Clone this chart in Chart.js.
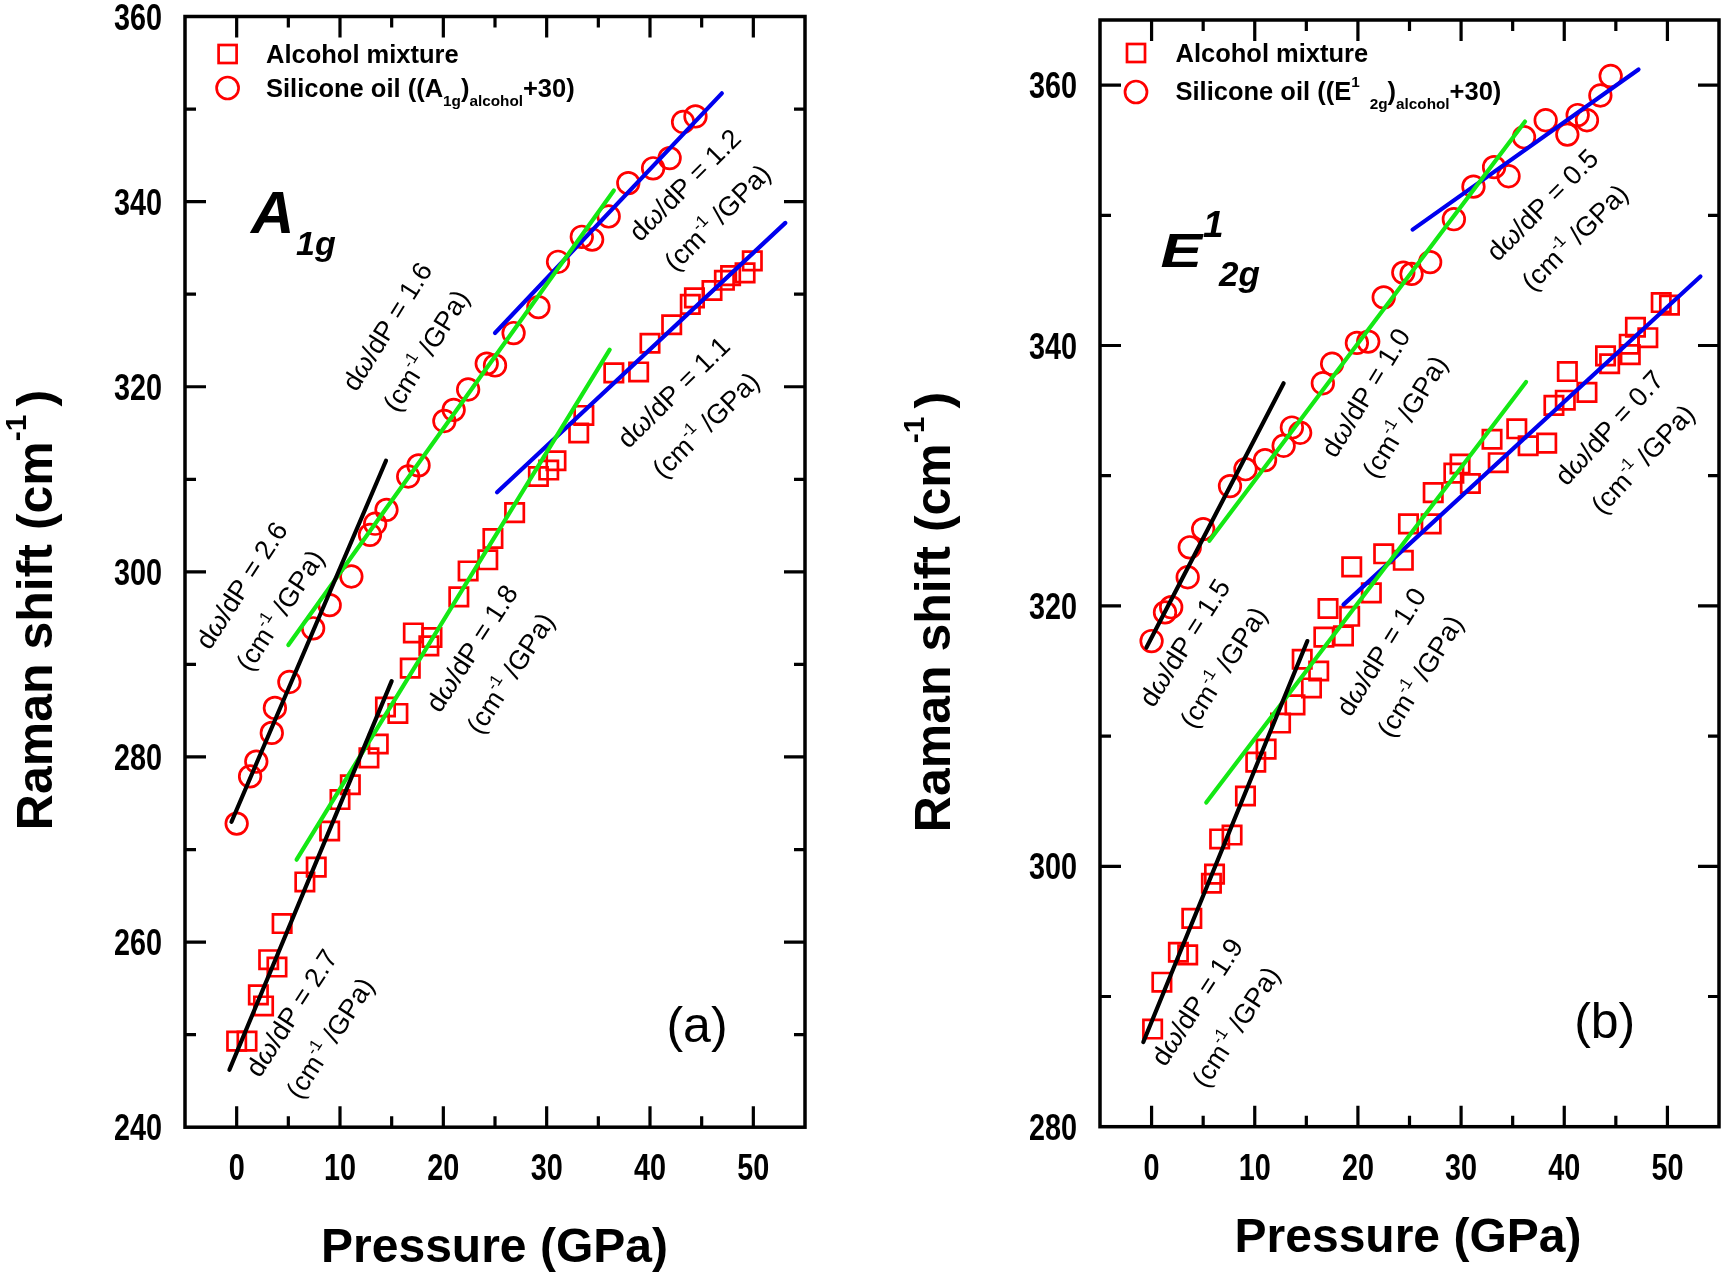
<!DOCTYPE html>
<html><head><meta charset="utf-8">
<script src="https://cdn.jsdelivr.net/npm/chart.js@4.4.0/dist/chart.umd.min.js"></script>
<style>
html,body{margin:0;padding:0;background:#fff;overflow:hidden}
#wrap{position:relative;width:1721px;height:1273px;background:#fff}
#ca{position:absolute;left:0;top:0;width:860px;height:1273px}
#cb{position:absolute;left:860px;top:0;width:861px;height:1273px}
</style></head><body>
<div id="wrap"><canvas id="ca" width="860" height="1273"></canvas><canvas id="cb" width="861" height="1273"></canvas></div>
<script>
// ================= DATA =================
const pressureTicks = [0, 10, 20, 30, 40, 50];
const a_ramanTicks = [240, 260, 280, 300, 320, 340, 360];
const b_ramanTicks = [280, 300, 320, 340, 360];

// Panel (a) A1g — alcohol mixture (squares)
const a_alcohol_P = [0,1.0,2.1,2.6,3.1,3.9,4.4,6.6,7.7,9.0,10.0,11.0,12.8,13.7,14.4,15.6,16.8,17.1,18.9,18.6,21.5,22.4,24.3,24.8,26.9,29.2,30.2,30.9,33.1,33.6,36.5,38.9,40.0,42.1,43.9,44.3,46.0,47.2,47.8,49.2,49.9];
const a_alcohol_w = [249.3,249.3,254.3,253.1,258.1,257.3,262.0,266.5,268.1,272.0,275.4,277.0,279.9,281.4,285.4,284.7,289.6,293.4,292.9,292.0,297.3,300.1,301.3,303.6,306.4,310.3,311.0,312.0,315.0,316.9,321.5,321.6,324.7,326.7,328.9,329.6,330.4,331.5,332.0,332.3,333.6];
// Panel (a) A1g — silicone oil (+30) (circles)
const a_silicone_P = [0,1.3,1.9,3.4,3.7,5.1,7.4,9.0,11.1,12.9,13.4,14.5,16.6,17.6,20.1,21.0,22.4,24.2,25.0,26.8,29.2,31.1,33.4,34.4,36.0,37.9,40.3,41.9,43.2,44.4];
const a_silicone_w = [272.8,277.9,279.5,282.6,285.3,288.1,293.9,296.4,299.5,304.0,305.2,306.7,310.3,311.5,316.3,317.5,319.7,322.5,322.3,325.8,328.6,333.5,336.2,335.9,338.4,342.0,343.6,344.7,348.6,349.2];

// Panel (b) E12g — alcohol mixture (squares)
const b_alcohol_P = [0.1,1.0,2.6,3.5,3.9,5.8,6.1,6.6,7.8,9.1,10.1,11.1,12.5,13.9,15.5,14.6,16.2,16.7,18.6,17.1,19.2,19.4,21.3,22.5,24.4,24.9,27.1,27.3,29.3,29.9,30.9,33.0,33.6,35.4,36.5,38.3,39.0,40.1,40.3,42.2,44.0,44.4,46.3,46.4,46.9,48.1,49.4,50.2];
const b_alcohol_w = [287.5,291.1,293.4,293.2,296.0,298.7,299.4,302.1,302.4,305.4,308.0,309.0,311.0,312.4,313.7,315.9,315.0,317.6,317.7,319.8,319.2,323.0,321.0,324.0,323.5,326.3,326.3,328.7,330.2,330.9,329.4,332.8,331.0,333.6,332.3,332.5,335.4,335.8,338.0,336.4,339.2,338.6,340.1,339.3,341.4,340.6,343.3,343.1];
// Panel (b) E12g — silicone oil (+30) (circles)
const b_silicone_P = [0,1.3,1.9,3.5,3.7,5.0,7.6,9.1,11.0,12.8,13.6,14.4,16.6,17.5,19.9,21.0,22.5,24.4,25.2,27.0,29.3,31.2,33.2,34.6,36.1,38.2,40.3,41.3,42.2,43.5,44.5];
const b_silicone_w = [317.3,319.5,319.9,322.2,324.5,325.9,329.2,330.5,331.2,332.3,333.7,333.3,337.1,338.6,340.2,340.3,343.7,345.6,345.5,346.4,349.7,352.2,353.7,353.0,356.0,357.3,356.2,357.7,357.3,359.2,360.7];

// Linear fit segments (end points)
const a_fit_P = [[-0.5,14.45],[5.0,36.5],[25.0,46.95],[-0.7,15.0],[5.8,36.1],[25.2,53.1]];
const a_fit_w = [[273.0,312.0],[292.1,341.2],[325.8,351.7],[246.2,288.2],[268.9,324.0],[308.6,337.7]];
const b_fit_P = [[-0.5,12.8],[5.6,36.2],[25.3,47.2],[-0.8,15.1],[5.3,36.3],[18.6,53.2]];
const b_fit_w = [[316.8,337.1],[325.0,357.2],[348.9,361.2],[286.5,317.3],[304.9,337.2],[320.1,345.3]];
const fitKinds = ['black','green','blue','black','green','blue'];

// Slope labels (dω/dP values)
const a_slopes = ['2.6','1.6','1.2','2.7','1.8','1.1'];
const b_slopes = ['1.5','1.0','0.5','1.9','1.0','0.7'];

// ================= STYLE / LAYOUT =================
const FAM = "'Liberation Sans', Arial, Helvetica, sans-serif";
const RED = 'rgb(255,0,0)';
const COLORS = {black:'#000000', green:'rgb(20,232,20)', blue:'rgb(0,0,238)'};

// anchor (P, w) of each slope label, with rotation in degrees
const a_noteAnchors = [[1.21,298.0,57],[15.3,326.0,58],[44.0,341.1,45],[6.05,251.8,57],[23.5,291.2,57],[42.9,318.7,44.5]];
const b_noteAnchors = [[3.95,316.8,57.5],[21.5,336.0,58.5],[38.5,350.3,45],[5.16,289.2,57],[23.0,316.1,58],[45.0,333.2,47]];

function rich(ctx, segs, x, y, o) {
  const parts = segs.map(s => {
    const k = s.k || 'n';
    const sz = k === 'n' ? o.size : o.size * o.ss;
    const st = s.it ? 'italic' : (o.style || 'normal');
    const font = `${st} ${o.weight || 'normal'} ${sz}px ${o.family || FAM}`;
    ctx.font = font;
    const w = ctx.measureText(s.t).width;
    const dy = k === 'sup' ? -o.rise * o.size : (k === 'sub' ? o.drop * o.size : 0);
    return {t: s.t, font, w, dy, gap: s.gap || 0};
  });
  const total = parts.reduce((a, p) => a + p.w + p.gap, 0);
  let cx = o.align === 'center' ? x - total / 2 : (o.align === 'right' ? x - total : x);
  ctx.textAlign = 'left'; ctx.textBaseline = 'alphabetic';
  for (const p of parts) { ctx.font = p.font; ctx.fillText(p.t, cx, y + p.dy); cx += p.w + p.gap; }
  return total;
}

function decoPlugin(P) {
  return {
    id: 'deco_' + P.name,
    afterDraw(chart) {
      const c = chart.ctx, ca = chart.chartArea, xs = chart.scales.x, ys = chart.scales.y;
      c.save();
      // ticks (inward, on all four sides)
      c.strokeStyle = '#000'; c.lineWidth = 3.2; c.lineCap = 'butt';
      for (let v = Math.ceil(P.xMin / 5) * 5; v <= P.xMax; v += 5) {
        if (v <= P.xMin || v >= P.xMax) continue;
        const L = (v % 10 === 0) ? 21 : 11;
        const px = xs.getPixelForValue(v);
        c.beginPath();
        c.moveTo(px, ca.bottom); c.lineTo(px, ca.bottom - L);
        c.moveTo(px, ca.top); c.lineTo(px, ca.top + L);
        c.stroke();
      }
      for (let v = Math.ceil(P.yMin / 10) * 10; v <= P.yMax; v += 10) {
        if (v <= P.yMin || v >= P.yMax) continue;
        const L = (v % 20 === 0) ? 21 : 11;
        const py = ys.getPixelForValue(v);
        c.beginPath();
        c.moveTo(ca.left, py); c.lineTo(ca.left + L, py);
        c.moveTo(ca.right, py); c.lineTo(ca.right - L, py);
        c.stroke();
      }
      // frame
      c.lineWidth = 3.5;
      c.strokeRect(ca.left, ca.top, ca.right - ca.left, ca.bottom - ca.top);

      // tick labels (condensed bold digits), positioned through the chart scales
      c.fillStyle = '#000';
      c.font = `bold 36px ${FAM}`; c.textBaseline = 'alphabetic';
      xs.ticks.forEach(t => {
        const px = xs.getPixelForValue(t.value);
        c.save(); c.translate(px, ca.bottom + 53); c.scale(0.8, 1);
        c.textAlign = 'center'; c.fillText(String(t.value), 0, 0); c.restore();
      });
      ys.ticks.forEach(t => {
        const py = ys.getPixelForValue(t.value);
        c.save(); c.translate(ca.left - 23, py + 13); c.scale(0.8, 1);
        c.textAlign = 'right'; c.fillText(String(t.value), 0, 0); c.restore();
      });

      // slope annotations
      P.notes.forEach((n, i) => {
        const x = xs.getPixelForValue(n[0]), y = ys.getPixelForValue(n[1]);
        c.save(); c.translate(x, y); c.rotate(-n[2] * Math.PI / 180);
        const o = {size: 27, ss: 0.62, rise: 0.45, drop: 0.2, align: 'center'};
        rich(c, [{t:'d'},{t:'ω', it:true},{t:'/dP = ' + P.slopes[i]}], 0, 0, o);
        rich(c, [{t:'(cm'},{t:'-1', k:'sup', gap:7},{t:'/GPa)'}], 0, 46, o);
        c.restore();
      });

      // legend
      c.strokeStyle = RED; c.lineWidth = 2.7;
      c.strokeRect(P.leg.mx - 9, P.leg.my1 - 9, 18, 18);
      c.beginPath(); c.arc(P.leg.mx, P.leg.my2, 11, 0, 2 * Math.PI); c.stroke();
      c.fillStyle = '#000';
      const lo = {size: 25.5, weight: 'bold', ss: 0.6, rise: 0.5, drop: 0.36, align: 'left'};
      rich(c, [{t:'Alcohol mixture'}], P.leg.tx, P.leg.ty1, lo);
      rich(c, P.legSegs, P.leg.tx, P.leg.ty2, lo);

      // big mode label
      P.drawMode(c);

      // panel letter
      c.font = `normal 50px ${FAM}`; c.textAlign = 'center'; c.textBaseline = 'alphabetic';
      c.fillText(P.letter, P.letterPos[0], P.letterPos[1]);

      // axis titles
      c.save(); c.translate(P.yTitle[0], P.yTitle[1]); c.rotate(-Math.PI / 2);
      rich(c, [{t:'Raman shift (cm'},{t:'-1', k:'sup', gap:8},{t:')'}], 0, 0,
           {size: 50, weight: 'bold', ss: 0.6, rise: 0.52, drop: 0, align: 'center'});
      c.restore();
      rich(c, [{t:'Pressure (GPa)'}], P.xTitle[0], P.xTitle[1], {size: 48, weight: 'bold', align: 'center'});
      c.restore();
    }
  };
}

function makePanel(id, P) {
  const datasets = [];
  P.fitP.forEach((pp, i) => {
    datasets.push({
      data: [{x: pp[0], y: P.fitW[i][0]}, {x: pp[1], y: P.fitW[i][1]}],
      showLine: true, borderColor: COLORS[fitKinds[i]], borderWidth: 4.2, borderCapStyle: 'round',
      pointRadius: 0, pointHoverRadius: 0, fill: false, order: 0
    });
  });
  datasets.push({
    label: 'Alcohol mixture',
    data: P.alcP.map((x, i) => ({x, y: P.alcW[i]})),
    pointStyle: 'rect', pointRadius: 13, pointBorderWidth: 2.7,
    borderColor: RED, pointBorderColor: RED, backgroundColor: 'rgba(0,0,0,0)', pointBackgroundColor: 'rgba(0,0,0,0)',
    showLine: false, order: 1
  });
  datasets.push({
    label: 'Silicone oil',
    data: P.silP.map((x, i) => ({x, y: P.silW[i]})),
    pointStyle: 'circle', pointRadius: 10.8, pointBorderWidth: 2.7,
    borderColor: RED, pointBorderColor: RED, backgroundColor: 'rgba(0,0,0,0)', pointBackgroundColor: 'rgba(0,0,0,0)',
    showLine: false, order: 1
  });
  new Chart(document.getElementById(id), {
    type: 'scatter',
    data: {datasets},
    options: {
      responsive: false, animation: false, devicePixelRatio: 1,
      layout: {autoPadding: false, padding: {left: 0, top: P.area.top, right: P.area.right, bottom: 0}},
      plugins: {legend: {display: false}, tooltip: {enabled: false}},
      events: [],
      scales: {
        x: {
          type: 'linear', min: P.xMin, max: P.xMax,
          border: {display: false}, grid: {display: false, drawTicks: false},
          afterBuildTicks: s => { s.ticks = pressureTicks.map(v => ({value: v})); },
          afterFit: s => { s.height = P.area.xh; s.paddingLeft = 0; s.paddingRight = 0; },
          ticks: {display: false}
        },
        y: {
          type: 'linear', min: P.yMin, max: P.yMax,
          border: {display: false}, grid: {display: false, drawTicks: false},
          afterBuildTicks: s => { s.ticks = P.yTicks.map(v => ({value: v})); },
          afterFit: s => { s.width = P.area.yw; s.paddingTop = 0; s.paddingBottom = 0; },
          ticks: {display: false}
        }
      }
    },
    plugins: [decoPlugin(P)]
  });
}

makePanel('ca', {
  name: 'a', xMin: -5, xMax: 55, yMin: 240, yMax: 360, yTicks: a_ramanTicks,
  alcP: a_alcohol_P, alcW: a_alcohol_w, silP: a_silicone_P, silW: a_silicone_w,
  fitP: a_fit_P, fitW: a_fit_w, slopes: a_slopes, notes: a_noteAnchors,
  area: {top: 16.5, right: 55, yw: 185, xh: 145.8},
  leg: {mx: 227.6, my1: 54, my2: 88, tx: 266, ty1: 62.5, ty2: 96.5},
  legSegs: [{t:'Silicone oil ((A'},{t:'1g', k:'sub'},{t:')'},{t:'alcohol', k:'sub'},{t:'+30)'}],
  letter: '(a)', letterPos: [697, 1042],
  yTitle: [52, 610], xTitle: [494.5, 1262],
  drawMode(c) {
    c.fillStyle = '#000'; c.textAlign = 'left'; c.textBaseline = 'alphabetic';
    c.font = `italic bold 60px ${FAM}`; c.fillText('A', 251, 233);
    c.font = `italic bold 34px ${FAM}`; c.fillText('1g', 296, 255);
  }
});

makePanel('cb', {
  name: 'b', xMin: -5, xMax: 55, yMin: 280, yMax: 365, yTicks: b_ramanTicks,
  alcP: b_alcohol_P, alcW: b_alcohol_w, silP: b_silicone_P, silW: b_silicone_w,
  fitP: b_fit_P, fitW: b_fit_w, slopes: b_slopes, notes: b_noteAnchors,
  area: {top: 20, right: 2, yw: 240, xh: 146.3},
  leg: {mx: 276, my1: 53, my2: 92, tx: 315.5, ty1: 61.5, ty2: 100},
  legSegs: [{t:'Silicone oil ((E'},{t:'1', k:'sup', gap:10},{t:'2g', k:'sub'},{t:')'},{t:'alcohol', k:'sub'},{t:'+30)'}],
  letter: '(b)', letterPos: [744.7, 1038],
  yTitle: [90, 612], xTitle: [548, 1252],
  drawMode(c) {
    c.fillStyle = '#000'; c.textAlign = 'left'; c.textBaseline = 'alphabetic';
    c.save(); c.translate(300.6, 267); c.scale(1.3, 1);
    c.font = `italic bold 48px ${FAM}`; c.fillText('E', 0, 0);
    c.restore();
    c.font = `italic bold 37px ${FAM}`; c.fillText('1', 343, 237);
    c.font = `italic bold 35px ${FAM}`; c.fillText('2g', 359, 286);
  }
});
</script>
</body></html>
